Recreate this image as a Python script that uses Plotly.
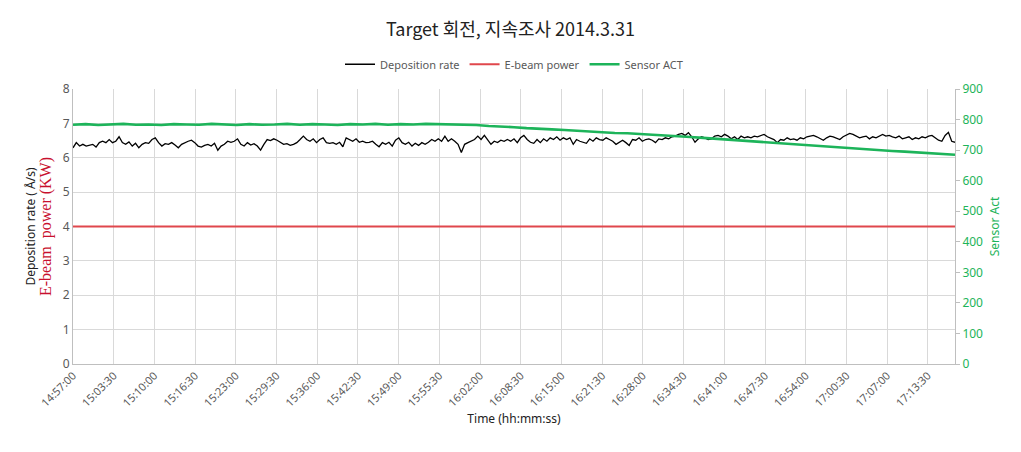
import pandas as pd
import plotly.graph_objects as go

# ---------------- data ----------------
date_str = "2014-03-31"
start_time = "14:57:00"
end_time = "17:17:50"

tick_labels = ["14:57:00", "15:03:30", "15:10:00", "15:16:30", "15:23:00", "15:29:30",
               "15:36:00", "15:42:30", "15:49:00", "15:55:30", "16:02:00", "16:08:30",
               "16:15:00", "16:21:30", "16:28:00", "16:34:30", "16:41:00", "16:47:30",
               "16:54:00", "17:00:30", "17:07:00", "17:13:30"]

deposition_rate = [
    6.29, 6.44, 6.34, 6.39, 6.34, 6.37, 6.39, 6.31, 6.44, 6.48, 6.44, 6.53, 6.44, 6.48, 6.61, 6.44, 6.39, 6.46,
    6.34, 6.42, 6.29, 6.39, 6.44, 6.42, 6.53, 6.58, 6.44, 6.34, 6.41, 6.39, 6.44, 6.37, 6.29, 6.39, 6.44, 6.48,
    6.51, 6.44, 6.34, 6.31, 6.36, 6.39, 6.34, 6.42, 6.22, 6.34, 6.39, 6.48, 6.45, 6.48, 6.55, 6.39, 6.34, 6.44,
    6.37, 6.41, 6.34, 6.22, 6.39, 6.53, 6.50, 6.55, 6.51, 6.45, 6.39, 6.41, 6.36, 6.39, 6.44, 6.53, 6.63, 6.53,
    6.48, 6.55, 6.44, 6.53, 6.58, 6.44, 6.42, 6.44, 6.39, 6.45, 6.32, 6.58, 6.53, 6.48, 6.55, 6.45, 6.48, 6.44,
    6.45, 6.48, 6.39, 6.32, 6.44, 6.39, 6.45, 6.34, 6.51, 6.58, 6.44, 6.39, 6.45, 6.34, 6.42, 6.36, 6.44, 6.39,
    6.45, 6.53, 6.48, 6.55, 6.48, 6.63, 6.48, 6.55, 6.48, 6.39, 6.15, 6.39, 6.44, 6.48, 6.53, 6.63, 6.53, 6.65,
    6.53, 6.39, 6.48, 6.44, 6.51, 6.48, 6.53, 6.48, 6.55, 6.44, 6.58, 6.65, 6.53, 6.45, 6.42, 6.53, 6.44, 6.55,
    6.48, 6.58, 6.53, 6.61, 6.51, 6.58, 6.53, 6.58, 6.39, 6.53, 6.48, 6.45, 6.42, 6.55, 6.48, 6.58, 6.53, 6.51,
    6.58, 6.53, 6.48, 6.39, 6.45, 6.51, 6.44, 6.36, 6.53, 6.51, 6.58, 6.48, 6.53, 6.55, 6.51, 6.44, 6.55, 6.53,
    6.58, 6.55, 6.61, 6.63, 6.68, 6.71, 6.65, 6.73, 6.61, 6.45, 6.55, 6.61, 6.58, 6.53, 6.55, 6.63, 6.65, 6.61,
    6.68, 6.63, 6.55, 6.61, 6.53, 6.63, 6.58, 6.61, 6.58, 6.63, 6.61, 6.65, 6.68, 6.61, 6.58, 6.53, 6.44, 6.53,
    6.51, 6.58, 6.53, 6.55, 6.51, 6.58, 6.55, 6.61, 6.63, 6.65, 6.61, 6.55, 6.51, 6.58, 6.63, 6.61, 6.58, 6.53,
    6.61, 6.65, 6.71, 6.68, 6.63, 6.58, 6.61, 6.63, 6.55, 6.61, 6.58, 6.63, 6.68, 6.63, 6.65, 6.61, 6.58, 6.63,
    6.55, 6.58, 6.61, 6.53, 6.58, 6.55, 6.61, 6.58, 6.63, 6.65, 6.58, 6.51, 6.48, 6.65, 6.74, 6.48, 6.45,
]

ebeam_power = [4.0, 4.0]

sensor_act = [
    783, 785, 782, 784, 786, 783, 784, 782, 785, 784, 783, 786, 784, 782, 785, 783, 784, 786, 783, 785,
    784, 782, 785, 784, 786, 783, 785, 784, 786, 785, 786, 784, 782, 779, 778, 775, 772, 771, 768, 766,
    763, 761, 758, 756, 755, 753, 750, 748, 746, 743, 740, 737, 735, 732, 729, 726, 722, 720, 717, 714,
    712, 708, 705, 703, 700, 697, 695, 692, 690, 688, 685,
]

# ---------------- build ----------------
t0 = pd.Timestamp(f"{date_str} {start_time}")
t1 = pd.Timestamp(f"{date_str} {end_time}")
t_dep = pd.date_range(t0, t1, periods=len(deposition_rate))
t_ebeam = pd.date_range(t0, t1, periods=len(ebeam_power))
t_sensor = pd.date_range(t0, t1, periods=len(sensor_act))
tickvals = [pd.Timestamp(f"{date_str} {s}") for s in tick_labels]

GREEN = "#1DB45A"
GRID = "#D9D9D9"
AXIS = "#BFBFBF"
TICKC = "#595959"
FONT = "Noto Sans, Noto Sans CJK KR, sans-serif"

fig = go.Figure()
fig.add_trace(go.Scatter(x=t_dep, y=deposition_rate, name="Deposition rate", mode="lines",
                         line=dict(color="#000000", width=1.3)))
fig.add_trace(go.Scatter(x=t_ebeam, y=ebeam_power, name="E-beam power", mode="lines",
                         line=dict(color="#E0474C", width=2)))
fig.add_trace(go.Scatter(x=t_sensor, y=sensor_act, name="Sensor ACT", mode="lines", yaxis="y2",
                         line=dict(color=GREEN, width=2.6)))

fig.update_layout(
    width=1021, height=452,
    margin=dict(l=73, r=66, t=89, b=88),
    paper_bgcolor="white", plot_bgcolor="white",
    font=dict(family=FONT, size=11, color=TICKC),
    title=dict(text="Target 회전, 지속조사 2014.3.31", x=0.5, xanchor="center", y=0.934, yanchor="middle",
               font=dict(family="Noto Sans CJK KR, sans-serif", size=18, color="#222222")),
    legend=dict(orientation="h", x=0.5, xanchor="center", y=1.09, yanchor="middle",
                font=dict(size=11, color=TICKC), bgcolor="rgba(0,0,0,0)"),
    xaxis=dict(type="date", range=[t0, t1], tickvals=tickvals, ticktext=tick_labels, tickangle=-45,
               showgrid=True, gridcolor=GRID, gridwidth=1, showline=True, linecolor=AXIS,
               ticks="", tickfont=dict(size=11, color=TICKC),
               title=dict(text="Time (hh:mm:ss)", font=dict(size=12, color="#222222"), standoff=6)),
    yaxis=dict(range=[0, 8], dtick=1, showgrid=True, gridcolor=GRID, showline=True, linecolor=AXIS,
               zeroline=False, tickfont=dict(size=12, color=TICKC), ticks="",
               title=dict(text="Deposition rate ( Å/s)<br><span style=\"font-family:'Liberation Serif',serif;color:#C8102E;font-size:16px\">E-beam  power (KW)</span>",
                          font=dict(size=12, color="#222222"), standoff=8)),
    yaxis2=dict(range=[0, 900], dtick=100, overlaying="y", side="right", showgrid=False,
                showline=True, linecolor=AXIS, ticks="outside", ticklen=4, tickcolor=AXIS,
                zeroline=False, tickfont=dict(size=12, color=GREEN),
                title=dict(text="Sensor Act", font=dict(size=12, color=GREEN), standoff=8)),
)

fig.write_html("out.html")
